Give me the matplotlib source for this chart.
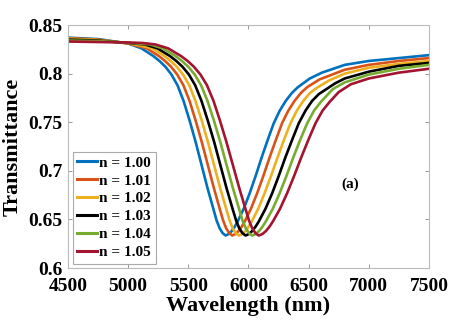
import matplotlib
matplotlib.use("Agg")
import matplotlib.pyplot as plt

# values, one (wavelength, T) list pair per n
wl_100 = [4500, 4750, 5000, 5110, 5210, 5260, 5310, 5360, 5410, 5460, 5510, 5560, 5610, 5660, 5710, 5735, 5760, 5785, 5810,
          5835, 5860, 5885, 5910, 5960, 6010, 6060, 6110, 6160, 6210, 6260, 6310, 6360, 6410, 6510, 6610, 6800, 7000, 7250, 7500]
t_100 = [0.837, 0.8355, 0.831, 0.826, 0.818, 0.813, 0.807, 0.799, 0.788, 0.772, 0.752, 0.730, 0.706, 0.682, 0.660, 0.649, 0.641, 0.636, 0.6335,
         0.635, 0.638, 0.6425, 0.648, 0.661, 0.677, 0.695, 0.714, 0.732, 0.749, 0.762, 0.772, 0.780, 0.786, 0.795, 0.801, 0.809, 0.813, 0.816, 0.819]

wl_101 = [4500, 4750, 5000, 5154, 5256, 5307, 5357, 5408, 5459, 5510, 5560, 5611, 5662, 5713, 5763, 5789, 5814, 5840, 5865,
          5891, 5917, 5943, 5969, 6020, 6072, 6124, 6176, 6228, 6279, 6331, 6383, 6435, 6487, 6590, 6800, 7000, 7250, 7500]
t_101 = [0.8365, 0.835, 0.831, 0.826, 0.818, 0.813, 0.807, 0.799, 0.788, 0.772, 0.752, 0.730, 0.706, 0.682, 0.660, 0.649, 0.641, 0.636, 0.6335,
         0.635, 0.638, 0.6425, 0.648, 0.661, 0.677, 0.695, 0.714, 0.732, 0.749, 0.762, 0.772, 0.780, 0.786, 0.794, 0.804, 0.809, 0.813, 0.816]

wl_102 = [4500, 4750, 5000, 5100, 5199, 5302, 5353, 5405, 5456, 5508, 5559, 5611, 5662, 5714, 5765, 5817, 5843, 5868, 5894, 5920,
          5947, 5974, 6000, 6027, 6081, 6134, 6188, 6242, 6295, 6349, 6402, 6456, 6510, 6563, 6670, 6800, 7000, 7250, 7500]
t_102 = [0.836, 0.8345, 0.8312, 0.829, 0.826, 0.818, 0.813, 0.807, 0.799, 0.788, 0.772, 0.752, 0.730, 0.706, 0.682, 0.660, 0.649, 0.641, 0.636, 0.6335,
         0.635, 0.638, 0.6425, 0.648, 0.661, 0.677, 0.695, 0.714, 0.732, 0.749, 0.762, 0.772, 0.780, 0.785, 0.793, 0.800, 0.806, 0.810, 0.813]

wl_103 = [4500, 4750, 5000, 5139, 5243, 5348, 5400, 5452, 5505, 5557, 5609, 5661, 5714, 5766, 5818, 5870, 5897, 5923, 5949, 5975,
          6003, 6030, 6058, 6086, 6141, 6197, 6252, 6307, 6363, 6418, 6474, 6529, 6585, 6720, 6800, 7000, 7250, 7500]
t_103 = [0.835, 0.834, 0.8315, 0.830, 0.826, 0.818, 0.813, 0.807, 0.799, 0.788, 0.772, 0.752, 0.730, 0.706, 0.682, 0.660, 0.649, 0.641, 0.636, 0.6335,
         0.635, 0.638, 0.6425, 0.648, 0.661, 0.677, 0.695, 0.714, 0.732, 0.749, 0.762, 0.772, 0.779, 0.790, 0.795, 0.802, 0.808, 0.811]

wl_104 = [4500, 4750, 5000, 5182, 5288, 5394, 5447, 5500, 5553, 5606, 5659, 5712, 5765, 5818, 5871, 5924, 5950, 5977, 6003, 6030,
          6059, 6087, 6116, 6144, 6202, 6259, 6316, 6373, 6430, 6488, 6545, 6602, 6700, 6800, 7000, 7250, 7500]
t_104 = [0.834, 0.8335, 0.8318, 0.830, 0.826, 0.818, 0.813, 0.807, 0.799, 0.788, 0.772, 0.752, 0.730, 0.706, 0.682, 0.660, 0.649, 0.641, 0.636, 0.6335,
         0.635, 0.638, 0.6425, 0.648, 0.661, 0.677, 0.695, 0.714, 0.732, 0.749, 0.762, 0.771, 0.784, 0.791, 0.799, 0.805, 0.809]

wl_105 = [4500, 4750, 5000, 5118, 5225, 5332, 5440, 5494, 5547, 5601, 5655, 5709, 5762, 5816, 5870, 5924, 5977, 6004, 6031, 6058, 6085,
          6115, 6144, 6174, 6203, 6262, 6321, 6380, 6439, 6498, 6557, 6616, 6675, 6750, 6850, 7000, 7250, 7500]
t_105 = [0.833, 0.8325, 0.832, 0.8315, 0.830, 0.826, 0.818, 0.813, 0.807, 0.799, 0.788, 0.772, 0.752, 0.730, 0.706, 0.682, 0.660, 0.649, 0.641, 0.636, 0.6335,
         0.635, 0.638, 0.6425, 0.648, 0.661, 0.677, 0.695, 0.714, 0.732, 0.749, 0.762, 0.771, 0.781, 0.789, 0.795, 0.801, 0.805]

labels = ['n = 1.00', 'n = 1.01', 'n = 1.02', 'n = 1.03', 'n = 1.04', 'n = 1.05']
colors = ['#0072BD', '#D95319', '#EDB120', '#000000', '#77AC30', '#A2142F']

xticks = [4500, 5000, 5500, 6000, 6500, 7000, 7500]
yticks = [0.6, 0.65, 0.7, 0.75, 0.8, 0.85]
ytick_labels = ['0.6', '0.65', '0.7', '0.75', '0.8', '0.85']

plt.rcParams['font.family'] = ['Liberation Serif', 'DejaVu Serif']
plt.rcParams['font.weight'] = 'bold'

fig = plt.figure(figsize=(4.74, 3.23), dpi=100)
ax = fig.add_axes([0.1435, 0.170, 0.7615, 0.7526])

series = [(wl_100, t_100), (wl_101, t_101), (wl_102, t_102),
          (wl_103, t_103), (wl_104, t_104), (wl_105, t_105)]
for (w, t), c, lab in zip(series, colors, labels):
    ax.plot(w, t, color=c, lw=1.9, label=lab)

ax.set_xlim(4500, 7500)
ax.set_ylim(0.6, 0.85)
ax.set_xticks(xticks)
ax.set_xticklabels([str(v) for v in xticks])
ax.set_yticks(yticks)
ax.set_yticklabels(ytick_labels)
ax.tick_params(direction='in', top=True, right=True, length=3, width=0.6,
               color='#888888', labelsize=14)
ax.tick_params(axis='x', pad=7)
ax.tick_params(axis='y', pad=4)
for s in ax.spines.values():
    s.set_color('#bbbbbb')
    s.set_linewidth(0.8)

ax.set_xlabel('Wavelength (nm)', fontsize=16, fontweight='bold', labelpad=1)
ax.set_ylabel('Transmittance', fontsize=16, fontweight='bold', labelpad=4)

ax.text(6844, 0.686, '(a)', fontsize=11, fontweight='bold', ha='center', va='center')

leg = ax.legend(loc='lower left', fontsize=11, handlelength=1.3, handletextpad=0.15,
                labelspacing=0.27, borderpad=0.3, borderaxespad=0.3, fancybox=False,
                framealpha=1)
leg.get_frame().set_edgecolor('#aaaaaa')
leg.get_frame().set_linewidth(0.8)
for line in leg.get_lines():
    line.set_linewidth(2.2)

fig.savefig('out.png', dpi=100)
